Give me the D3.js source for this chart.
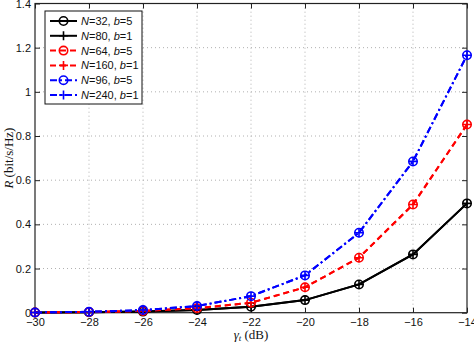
<!DOCTYPE html>
<html><head><meta charset="utf-8">
<script src="https://cdn.jsdelivr.net/npm/d3@7"></script>
<style>body{margin:0;background:#fff}svg{display:block}</style>
</head><body>
<script>
const xValues = [-30, -28, -26, -24, -22, -20, -18, -16, -14];
const seriesB5N32 = [0.001, 0.002, 0.005, 0.012, 0.027, 0.057, 0.128, 0.264, 0.495];
const seriesB5N64 = [0.001, 0.003, 0.008, 0.02, 0.045, 0.115, 0.249, 0.49, 0.852];
const seriesB5N96 = [0.001, 0.004, 0.012, 0.03, 0.075, 0.169, 0.362, 0.685, 1.166];
const seriesB1N80 = [0.001, 0.002, 0.005, 0.012, 0.027, 0.057, 0.128, 0.264, 0.495];
const seriesB1N160 = [0.001, 0.003, 0.008, 0.02, 0.045, 0.115, 0.249, 0.49, 0.852];
const seriesB1N240 = [0.001, 0.004, 0.012, 0.03, 0.075, 0.169, 0.362, 0.685, 1.166];
const xTicks = [-30, -28, -26, -24, -22, -20, -18, -16, -14];
const yTicks = [0, 0.2, 0.4, 0.6, 0.8, 1, 1.2, 1.4];
const legendN = ["32", "80", "64", "160", "96", "240"];
const legendB = ["5", "1", "5", "1", "5", "1"];

const series = [
  {vals: seriesB5N32, color: "#000", dash: null, marker: "o"},
  {vals: seriesB1N80, color: "#000", dash: null, marker: "+"},
  {vals: seriesB5N64, color: "#ff0000", dash: "6,4", marker: "o"},
  {vals: seriesB1N160, color: "#ff0000", dash: "6,4", marker: "+"},
  {vals: seriesB5N96, color: "#0000ff", dash: "7,3,2,3", marker: "o"},
  {vals: seriesB1N240, color: "#0000ff", dash: "7,3,2,3", marker: "+"}
];

const SANS = "'Liberation Sans', Arial, sans-serif";
const SERIF = "'Liberation Serif', 'DejaVu Serif', serif";
const W = 474, H = 342;
const m = {l: 35, r: 7, t: 3.5, b: 29.3};
const svg = d3.select("body").append("svg").attr("width", W).attr("height", H);
const x = d3.scaleLinear().domain([-30, -14]).range([m.l, W - m.r]);
const y = d3.scaleLinear().domain([0, 1.4]).range([H - m.b, m.t]);

// grid
const grid = svg.append("g").attr("stroke", "#b0b0b0").attr("stroke-width", 1).attr("stroke-dasharray", "1,3");
xTicks.slice(1, -1).forEach(t => grid.append("line").attr("x1", x(t)).attr("x2", x(t)).attr("y1", y(0)).attr("y2", y(1.4)));
yTicks.slice(1, -1).forEach(t => grid.append("line").attr("x1", x(-30)).attr("x2", x(-14)).attr("y1", y(t)).attr("y2", y(t)));

// axes
const fmtY = d => d === 0 ? "0" : String(d);
svg.append("g").attr("transform", `translate(0,${y(0)})`)
  .call(d3.axisBottom(x).tickValues(xTicks).tickSize(-5).tickPadding(6).tickFormat(d => d < 0 ? "\u2212" + Math.abs(d) : d))
  .call(g => g.select(".domain").remove());
svg.append("g").attr("transform", `translate(0,${y(1.4)})`)
  .call(d3.axisTop(x).tickValues(xTicks).tickSize(-5).tickFormat(""))
  .call(g => g.select(".domain").remove());
svg.append("g").attr("transform", `translate(${x(-30)},0)`)
  .call(d3.axisLeft(y).tickValues(yTicks).tickSize(-5).tickPadding(4).tickFormat(fmtY))
  .call(g => g.select(".domain").remove());
svg.append("g").attr("transform", `translate(${x(-14)},0)`)
  .call(d3.axisRight(y).tickValues(yTicks).tickSize(-5).tickFormat(""))
  .call(g => g.select(".domain").remove());
svg.selectAll(".tick text").attr("font-size", 11).attr("fill", "#111").style("font-family", SANS);
svg.selectAll(".tick line").attr("stroke", "#222");
svg.append("rect").attr("x", x(-30)).attr("y", y(1.4)).attr("width", x(-14) - x(-30)).attr("height", y(0) - y(1.4))
  .attr("fill", "none").attr("stroke", "#222").attr("stroke-width", 1.2);

// lines
const line = d3.line().x((d, i) => x(xValues[i])).y(d => y(d));
function drawMarker(g, type, cx, cy, color) {
  if (type === "o") {
    g.append("circle").attr("cx", cx).attr("cy", cy).attr("r", 4.2).attr("fill", "none").attr("stroke", color).attr("stroke-width", 1.6);
  } else {
    g.append("path").attr("d", `M${cx-4.5},${cy}H${cx+4.5}M${cx},${cy-4.5}V${cy+4.5}`).attr("stroke", color).attr("stroke-width", 1.6);
  }
}
series.forEach(s => {
  svg.append("path").datum(s.vals).attr("d", line).attr("fill", "none")
    .attr("stroke", s.color).attr("stroke-width", 2).attr("stroke-dasharray", s.dash);
});
series.forEach(s => {
  const g = svg.append("g");
  s.vals.forEach((v, i) => drawMarker(g, s.marker, x(xValues[i]), y(v), s.color));
});

// legend
const lg = svg.append("g");
lg.append("rect").attr("x", 45).attr("y", 11).attr("width", 97).attr("height", 93).attr("fill", "#fff").attr("stroke", "#111").attr("stroke-width", 1);
series.forEach((s, i) => {
  const cy = 21 + i * 14.8;
  lg.append("line").attr("x1", 50).attr("x2", 77).attr("y1", cy).attr("y2", cy)
    .attr("stroke", s.color).attr("stroke-width", 2).attr("stroke-dasharray", s.dash);
  drawMarker(lg, s.marker, 63.5, cy, s.color);
  const t = lg.append("text").attr("x", 81).attr("y", cy + 4).attr("font-size", 11).attr("fill", "#111").style("font-family", SANS);
  t.append("tspan").attr("font-style", "italic").text("N");
  t.append("tspan").text("=" + legendN[i] + ", ");
  t.append("tspan").attr("font-style", "italic").text("b");
  t.append("tspan").text("=" + legendB[i]);
});

// axis labels
const xl = svg.append("text").attr("x", 251).attr("y", 338.5).attr("text-anchor", "middle")
  .style("font-family", SERIF).attr("font-size", 13).attr("fill", "#111");
xl.append("tspan").attr("font-style", "italic").text("\u03B3");
xl.append("tspan").attr("font-style", "italic").attr("font-size", 9).attr("dy", 2.5).text("t");
xl.append("tspan").attr("dy", -2.5).text(" (dB)");
const yl = svg.append("text").attr("transform", `translate(13,${y(0.7)}) rotate(-90)`).attr("text-anchor", "middle")
  .style("font-family", SERIF).attr("font-size", 13).attr("fill", "#111");
yl.append("tspan").attr("font-style", "italic").text("R");
yl.append("tspan").text(" (bit/s/Hz)");
</script>
</body></html>
